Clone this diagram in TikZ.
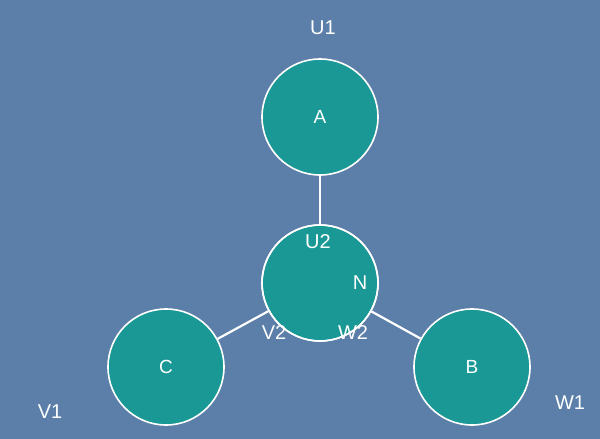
\documentclass[tikz,border=0pt]{standalone}
\usepackage{fontspec}
\setmainfont{Liberation Sans}
\definecolor{bg}{HTML}{5B7FA9}
\definecolor{teal1}{HTML}{1A9896}
\begin{document}
\begin{tikzpicture}[x=1pt,y=-1pt,
  ball/.style={circle,draw=white,line width=1.6pt,fill=teal1,minimum size=116pt,inner sep=0pt,text=white,font=\fontsize{19}{19}\selectfont},
  lab/.style={text=white,font=\fontsize{20}{20}\selectfont},
  wire/.style={draw=white,line width=2.2pt}]
\fill[bg] (0,0) rectangle (600,439);
\useasboundingbox (0,0) rectangle (600,439);
\node[ball] (A) at (320,117) {A};
\node[ball] (C) at (166,367) {C};
\node[ball] (B) at (472,367) {B};
\node[ball] (N) at (320,283) {};
\draw[wire] (N) -- (A);
\draw[wire] (N) -- (C);
\draw[wire] (N) -- (B);
\node[ball,fill=none,draw=white] at (320,283) {};
\node[lab] (nl) at (360,283) {N};
\node[lab] (u1) at (323,28) {U1};
\node[lab] (u2) at (318,242) {U2};
\node[lab] (v2) at (274,333) {V2};
\node[lab] (w2) at (353,333) {W2};
\node[lab] (v1) at (50,412) {V1};
\node[lab] (w1) at (570,403) {W1};
\end{tikzpicture}
\end{document}
